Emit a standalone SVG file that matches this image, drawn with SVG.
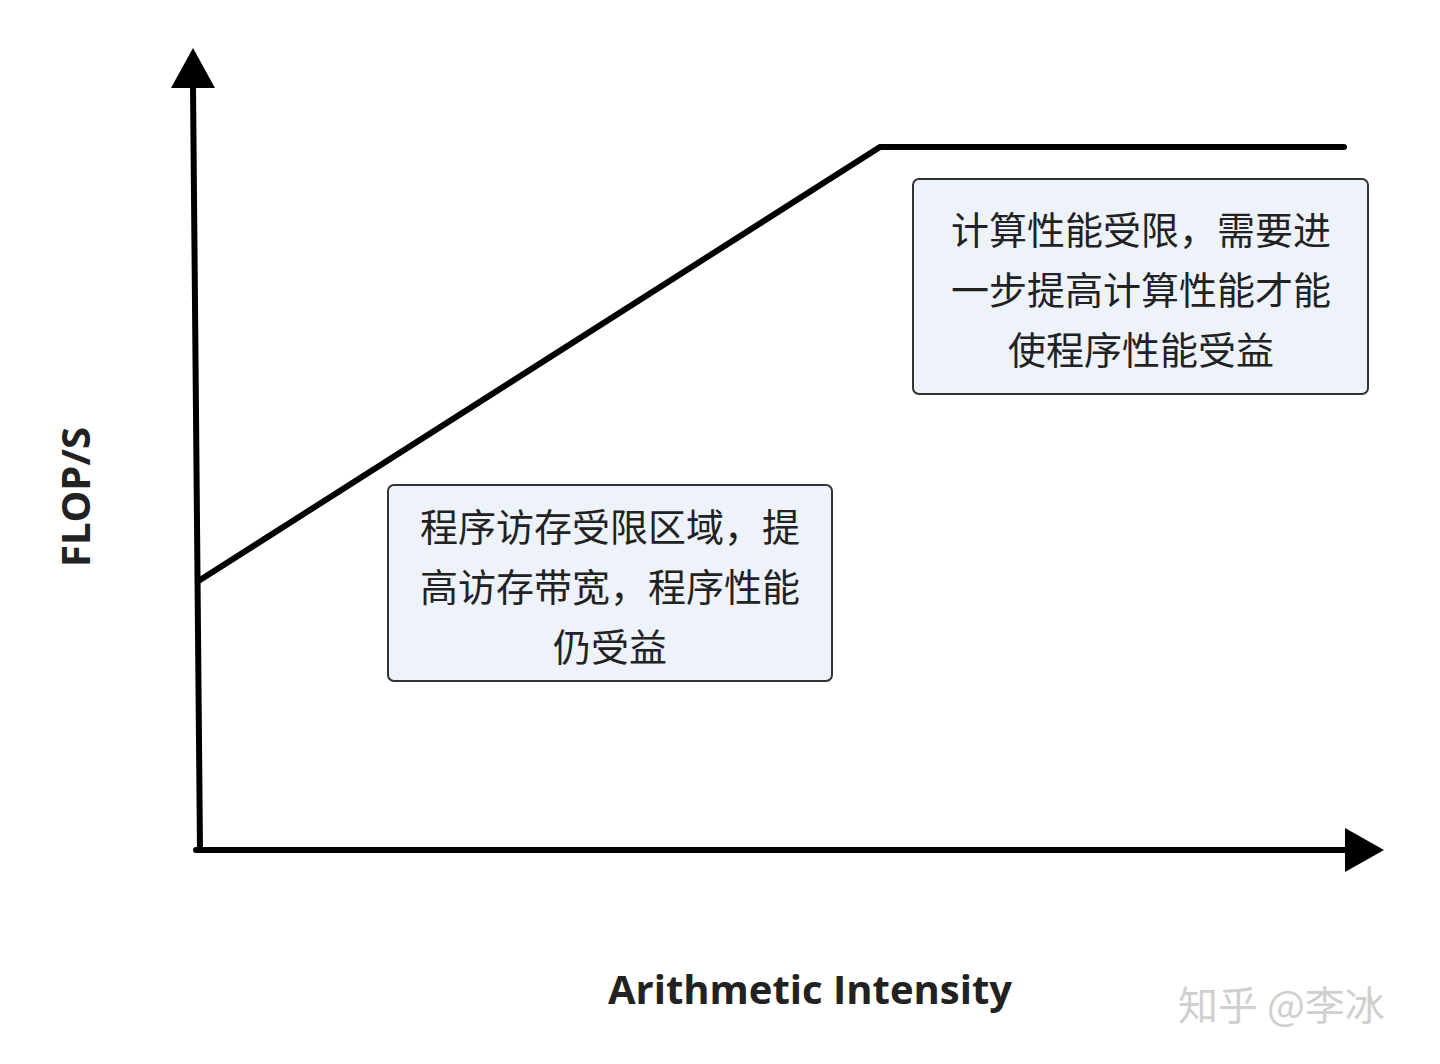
<svg xmlns="http://www.w3.org/2000/svg" width="1440" height="1064" viewBox="0 0 1440 1064">
<style>
.ax{stroke:#000;stroke-width:6;fill:none;stroke-linecap:round}
.box{fill:#eef2fb;stroke:#333;stroke-width:2}
.t{font-family:"Noto Sans CJK SC","Noto Sans",sans-serif;font-size:38px;fill:#222;text-anchor:middle}
.lbl{font-family:"Open Sans","Noto Sans",sans-serif;font-weight:bold;font-size:40px;fill:#222;text-anchor:middle}
</style>
<rect width="1440" height="1064" fill="#fff"/>
<g id="connectors">
<line class="ax" x1="200" y1="850" x2="193" y2="86"/>
<polygon points="193,48 171,88 215,88" fill="#000"/>
<line class="ax" x1="196" y1="850" x2="1346" y2="850"/>
<polygon points="1384,850 1345,828 1345,872" fill="#000"/>
<polyline class="ax" points="200,580 880,147 1344,147"/>
</g>
<g id="box1">
<rect class="box" x="913" y="179" width="455" height="215" rx="6"/>
<text class="t" x="1141" y="244">计算性能受限，需要进</text>
<text class="t" x="1141" y="304">一步提高计算性能才能</text>
<text class="t" x="1141" y="364">使程序性能受益</text>
</g>
<g id="box2">
<rect class="box" x="388" y="485" width="444" height="196" rx="6"/>
<text class="t" x="610" y="541">程序访存受限区域，提</text>
<text class="t" x="610" y="601">高访存带宽，程序性能</text>
<text class="t" x="610" y="661">仍受益</text>
</g>
<g id="ylabel"><text class="lbl" transform="translate(90,497) rotate(-90)" x="0" y="0">FLOP/S</text></g>
<g id="xlabel"><text class="lbl" x="810" y="1004">Arithmetic Intensity</text></g>
<text x="1178" y="1020" font-family="Noto Sans CJK SC,sans-serif" font-size="40" fill="#d0d0d0">知乎 @李冰</text>
</svg>
